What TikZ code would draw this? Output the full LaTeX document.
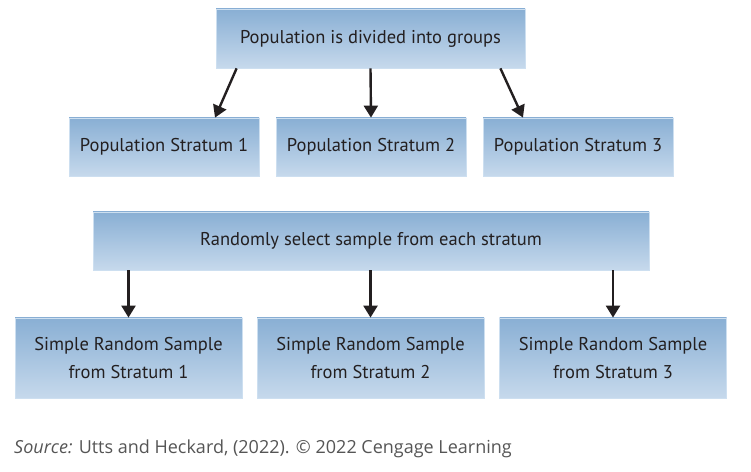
\documentclass[tikz,border=0pt]{standalone}
\usepackage{fontspec}
\setmainfont{PT Sans}
\newfontfamily\srcfont{Open Sans}
\usetikzlibrary{arrows.meta,positioning}
\definecolor{stepTop}{RGB}{137,175,212}
\definecolor{stepBot}{RGB}{198,217,236}
\definecolor{stepEdge}{RGB}{205,223,240}
\definecolor{stepInk}{RGB}{35,31,32}
\definecolor{srcInk}{RGB}{85,85,85}
\begin{document}
\begin{tikzpicture}[x=1pt,y=1pt,font=\fontsize{18.5}{28}\selectfont,
    blk/.style={draw=stepEdge,line width=0.8pt,top color=stepTop,bottom color=stepBot,
                text=stepInk,align=center,inner sep=2pt},
    ar/.style={-{Triangle[length=12pt,width=14pt]},stepInk,line width=2.4pt}]
    \useasboundingbox (0,0) rectangle (751,471);
    \node[blk,minimum width=309pt,minimum height=59pt] (top) at (370.5,432.5)
      {Population is divided into groups};
    \node[blk,minimum width=190pt,minimum height=58pt] (s1) at (164,324) {Population Stratum 1};
    \node[blk,minimum width=190pt,minimum height=58pt] (s2) at (371,324) {Population Stratum 2};
    \node[blk,minimum width=190pt,minimum height=58pt] (s3) at (578,324) {Population Stratum 3};
    \node[blk,minimum width=556pt,minimum height=58pt] (rnd) at (371,230)
      {Randomly select sample from each stratum};
    \node[blk,minimum width=227pt,minimum height=80pt] (r1) at (128.5,113)
      {Simple Random Sample\\ from Stratum 1};
    \node[blk,minimum width=227pt,minimum height=80pt] (r2) at (370.5,113)
      {Simple Random Sample\\ from Stratum 2};
    \node[blk,minimum width=227pt,minimum height=80pt] (r3) at (613,113)
      {Simple Random Sample\\ from Stratum 3};
    \node[anchor=base west,inner sep=0pt,text=srcInk,font=\srcfont\fontsize{18}{22}\selectfont]
      (src) at (14,18) {\textit{Source:} Utts and Heckard, (2022). \textcopyright{} 2022 Cengage Learning};
    \draw[ar] ([xshift=21pt]top.south west) -- ([xshift=51pt]s1.north);
    \draw[ar] (top.south) -- (s2.north);
    \draw[ar] ([xshift=-25pt]top.south east) -- ([xshift=-55pt]s3.north);
    \foreach \n in {r1,r2,r3} \draw[ar] (\n.north |- rnd.south) -- (\n.north);
  \end{tikzpicture}
\end{document}
